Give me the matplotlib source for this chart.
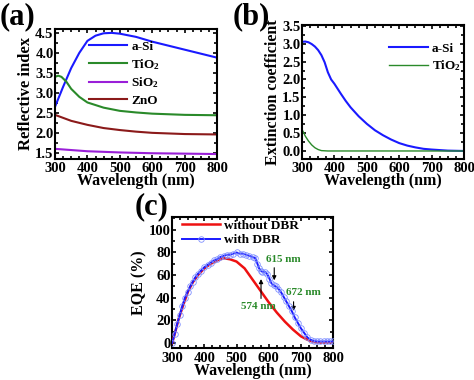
import numpy as np
from matplotlib import pyplot as plt
from matplotlib.ticker import MultipleLocator

plt.rcParams['font.family'] = ['Liberation Serif', 'DejaVu Serif']
plt.rcParams['font.weight'] = 'bold'
plt.rcParams['mathtext.fontset'] = 'custom'
plt.rcParams['mathtext.rm'] = 'Liberation Serif:bold'
plt.rcParams['mathtext.default'] = 'rm'

# (a) показатель преломления
wl_n = [300, 325, 350, 375, 400, 425, 450, 475, 500, 550, 600, 650, 700, 750, 800]
n_aSi = [2.65, 3.15, 3.62, 4.0, 4.3, 4.43, 4.49, 4.5, 4.48, 4.4, 4.28, 4.18, 4.08, 3.98, 3.88]
wl_t = [300, 310, 320, 335, 350, 375, 400, 450, 500, 550, 600, 700, 800]
n_TiO2 = [3.4, 3.43, 3.4, 3.28, 3.1, 2.9, 2.76, 2.63, 2.55, 2.51, 2.48, 2.45, 2.44]
wl_s = [300, 400, 500, 600, 700, 800]
n_SiO2 = [1.6, 1.54, 1.51, 1.49, 1.48, 1.47]
wl_z = [300, 350, 400, 450, 500, 550, 600, 700, 800]
n_ZnO = [2.45, 2.3, 2.2, 2.12, 2.07, 2.03, 2.0, 1.97, 1.96]

# (b) коэффициент экстинкции
wl_k = [300, 310, 320, 330, 340, 350, 360, 370, 380, 390, 400, 410, 420, 435, 450, 475, 500,
        525, 550, 575, 600, 625, 650, 675, 700, 750, 800]
k_aSi = [3.05, 3.06, 3.04, 2.99, 2.92, 2.82, 2.68, 2.48, 2.2, 2.0, 1.88, 1.74, 1.6, 1.4, 1.22,
         0.97, 0.76, 0.58, 0.44, 0.32, 0.22, 0.15, 0.1, 0.06, 0.04, 0.01, 0.0]
wl_kt = [300, 305, 310, 320, 330, 340, 350, 360, 380, 800]
k_TiO2 = [0.6, 0.52, 0.42, 0.28, 0.17, 0.09, 0.04, 0.01, 0.0, 0.0]

# (c) EQE
wl_e1 = [300, 310, 320, 335, 350, 365, 380, 400, 420, 440, 460, 480, 500, 525, 550, 575, 600,
         625, 650, 675, 700, 720, 740, 760, 800]
eqe_no = [0, 10, 21, 34, 46, 54, 60, 66, 70, 73, 75, 74, 72, 66, 56, 46, 36, 27, 19, 12, 6, 3, 1, 0.5, 0.5]
wl_e2 = [300, 308, 316, 324, 332, 340, 348, 356, 364, 372, 380, 390, 400, 410, 420, 430, 440,
         450, 460, 470, 480, 490, 500, 510, 520, 530, 540, 550, 558, 565, 570, 575, 580, 588,
         595, 602, 608, 615, 622, 630, 638, 646, 654, 662, 672, 680, 690, 700, 710, 720, 730,
         740, 750, 760, 770, 780, 790, 800]
eqe_dbr = [0, 8, 17, 25, 33, 40, 45, 50, 54, 58, 61, 64, 67, 69, 71, 73, 74,
           76, 77, 78, 78, 79, 80, 79, 79, 78, 77, 76, 75, 70, 66, 64, 63, 63,
           61, 57, 53, 51, 50, 48, 45, 41, 37, 33, 28, 23, 18, 13, 9, 5, 3,
           2, 1.5, 1.5, 1.5, 1.5, 1.5, 1.5]

ticks_kw = dict(direction='in', length=3, width=1.2, labelsize=10.5)


def style(ax):
    for s in ax.spines.values():
        s.set_linewidth(1.5)
    ax.set_xlim(300, 800)
    ax.xaxis.set_major_locator(MultipleLocator(100))
    ax.xaxis.set_minor_locator(MultipleLocator(25))
    ax.tick_params(which='both', top=True, right=True, **ticks_kw)
    ax.tick_params(which='minor', length=2)
    ax.tick_params(axis='x', pad=2)
    ax.tick_params(axis='y', pad=1)
    ax.set_xlabel('Wavelength (nm)', fontsize=11.5, fontweight='bold', labelpad=-1)


fig = plt.figure(figsize=(4.74, 3.8), dpi=100)

# (a)
ax1 = fig.add_axes([0.116, 0.582, 0.342, 0.342])
ax1.plot(wl_n, n_aSi, color='#1a1aff', lw=1.5, label='a-Si')
ax1.plot(wl_t, n_TiO2, color='#2a8a2a', lw=1.5, label='TiO$_2$')
ax1.plot(wl_s, n_SiO2, color='#9a1fd8', lw=1.5, label='SiO$_2$')
ax1.plot(wl_z, n_ZnO, color='#8b1a1a', lw=1.5, label='ZnO')
style(ax1)
ax1.set_ylim(1.35, 4.6)
ax1.yaxis.set_major_locator(MultipleLocator(0.5))
ax1.yaxis.set_major_formatter(plt.FormatStrFormatter('%.1f'))
ax1.yaxis.set_minor_locator(MultipleLocator(0.25))
ax1.set_ylabel('Reflective index', fontsize=12, fontweight='bold', labelpad=1)
ax1.legend(loc='upper left', bbox_to_anchor=(0.21, 0.91), frameon=False, fontsize=9.5,
           handlelength=2.9, handletextpad=0.3, labelspacing=0.3, borderaxespad=0, borderpad=0)
fig.text(0.0, 0.935, '(a)', fontsize=22, fontweight='bold')

# (b)
ax2 = fig.add_axes([0.637, 0.582, 0.342, 0.352])
ax2.plot(wl_k, k_aSi, color='#1a1aff', lw=1.5, label='a-Si')
ax2.plot(wl_kt, k_TiO2, color='#2a8a2a', lw=1.0, label='TiO$_2$')
style(ax2)
ax2.set_ylim(-0.22, 3.52)
ax2.yaxis.set_major_locator(MultipleLocator(0.5))
ax2.yaxis.set_major_formatter(plt.FormatStrFormatter('%.1f'))
ax2.yaxis.set_minor_locator(MultipleLocator(0.25))
ax2.set_ylabel('Extinction coefficient', fontsize=11.5, fontweight='bold', labelpad=1)
ax2.legend(loc='upper left', bbox_to_anchor=(0.54, 0.87), frameon=False, fontsize=9.5,
           handlelength=2.9, handletextpad=0.3, labelspacing=0.3, borderaxespad=0, borderpad=0)
fig.text(0.49, 0.935, '(b)', fontsize=22, fontweight='bold')

# (c)
ax3 = fig.add_axes([0.363, 0.085, 0.34, 0.343])
ax3.plot(wl_e1, eqe_no, color='#ee1111', lw=1.8, label='without DBR', zorder=3)
ax3.plot(wl_e2, eqe_dbr, color='#1a1aff', lw=1.4, marker='o', ms=4, mfc='none',
         mec='#8090ff', mew=0.6, label='with DBR', zorder=4)
style(ax3)
ax3.tick_params(axis='x', pad=3)
ax3.set_ylim(-4, 111)
ax3.yaxis.set_major_locator(MultipleLocator(20))
ax3.yaxis.set_minor_locator(MultipleLocator(10))
ax3.set_ylabel('EQE (%)', fontsize=11.5, fontweight='bold', labelpad=1)
ax3.legend(loc='upper left', bbox_to_anchor=(0.06, 0.985), frameon=False, fontsize=9.5,
           handlelength=2.9, handletextpad=0.3, labelspacing=0.2, borderaxespad=0, borderpad=0)

green = '#2a8a2a'
arrow = dict(arrowstyle='-|>', color='k', lw=0.8, mutation_scale=6)
ax3.annotate('', xy=(617, 53), xytext=(617, 69), arrowprops=arrow)
ax3.text(646, 74, '615 nm', color=green, fontsize=8, fontweight='bold', ha='center', va='center')
ax3.annotate('', xy=(576, 59), xytext=(576, 37), arrowprops=arrow)
ax3.text(567, 32, '574 nm', color=green, fontsize=8, fontweight='bold', ha='center', va='center')
ax3.annotate('', xy=(677, 26), xytext=(677, 39), arrowprops=arrow)
ax3.text(707, 45, '672 nm', color=green, fontsize=8, fontweight='bold', ha='center', va='center')
fig.text(0.285, 0.435, '(c)', fontsize=22, fontweight='bold')

fig.savefig('out.png', dpi=100)
